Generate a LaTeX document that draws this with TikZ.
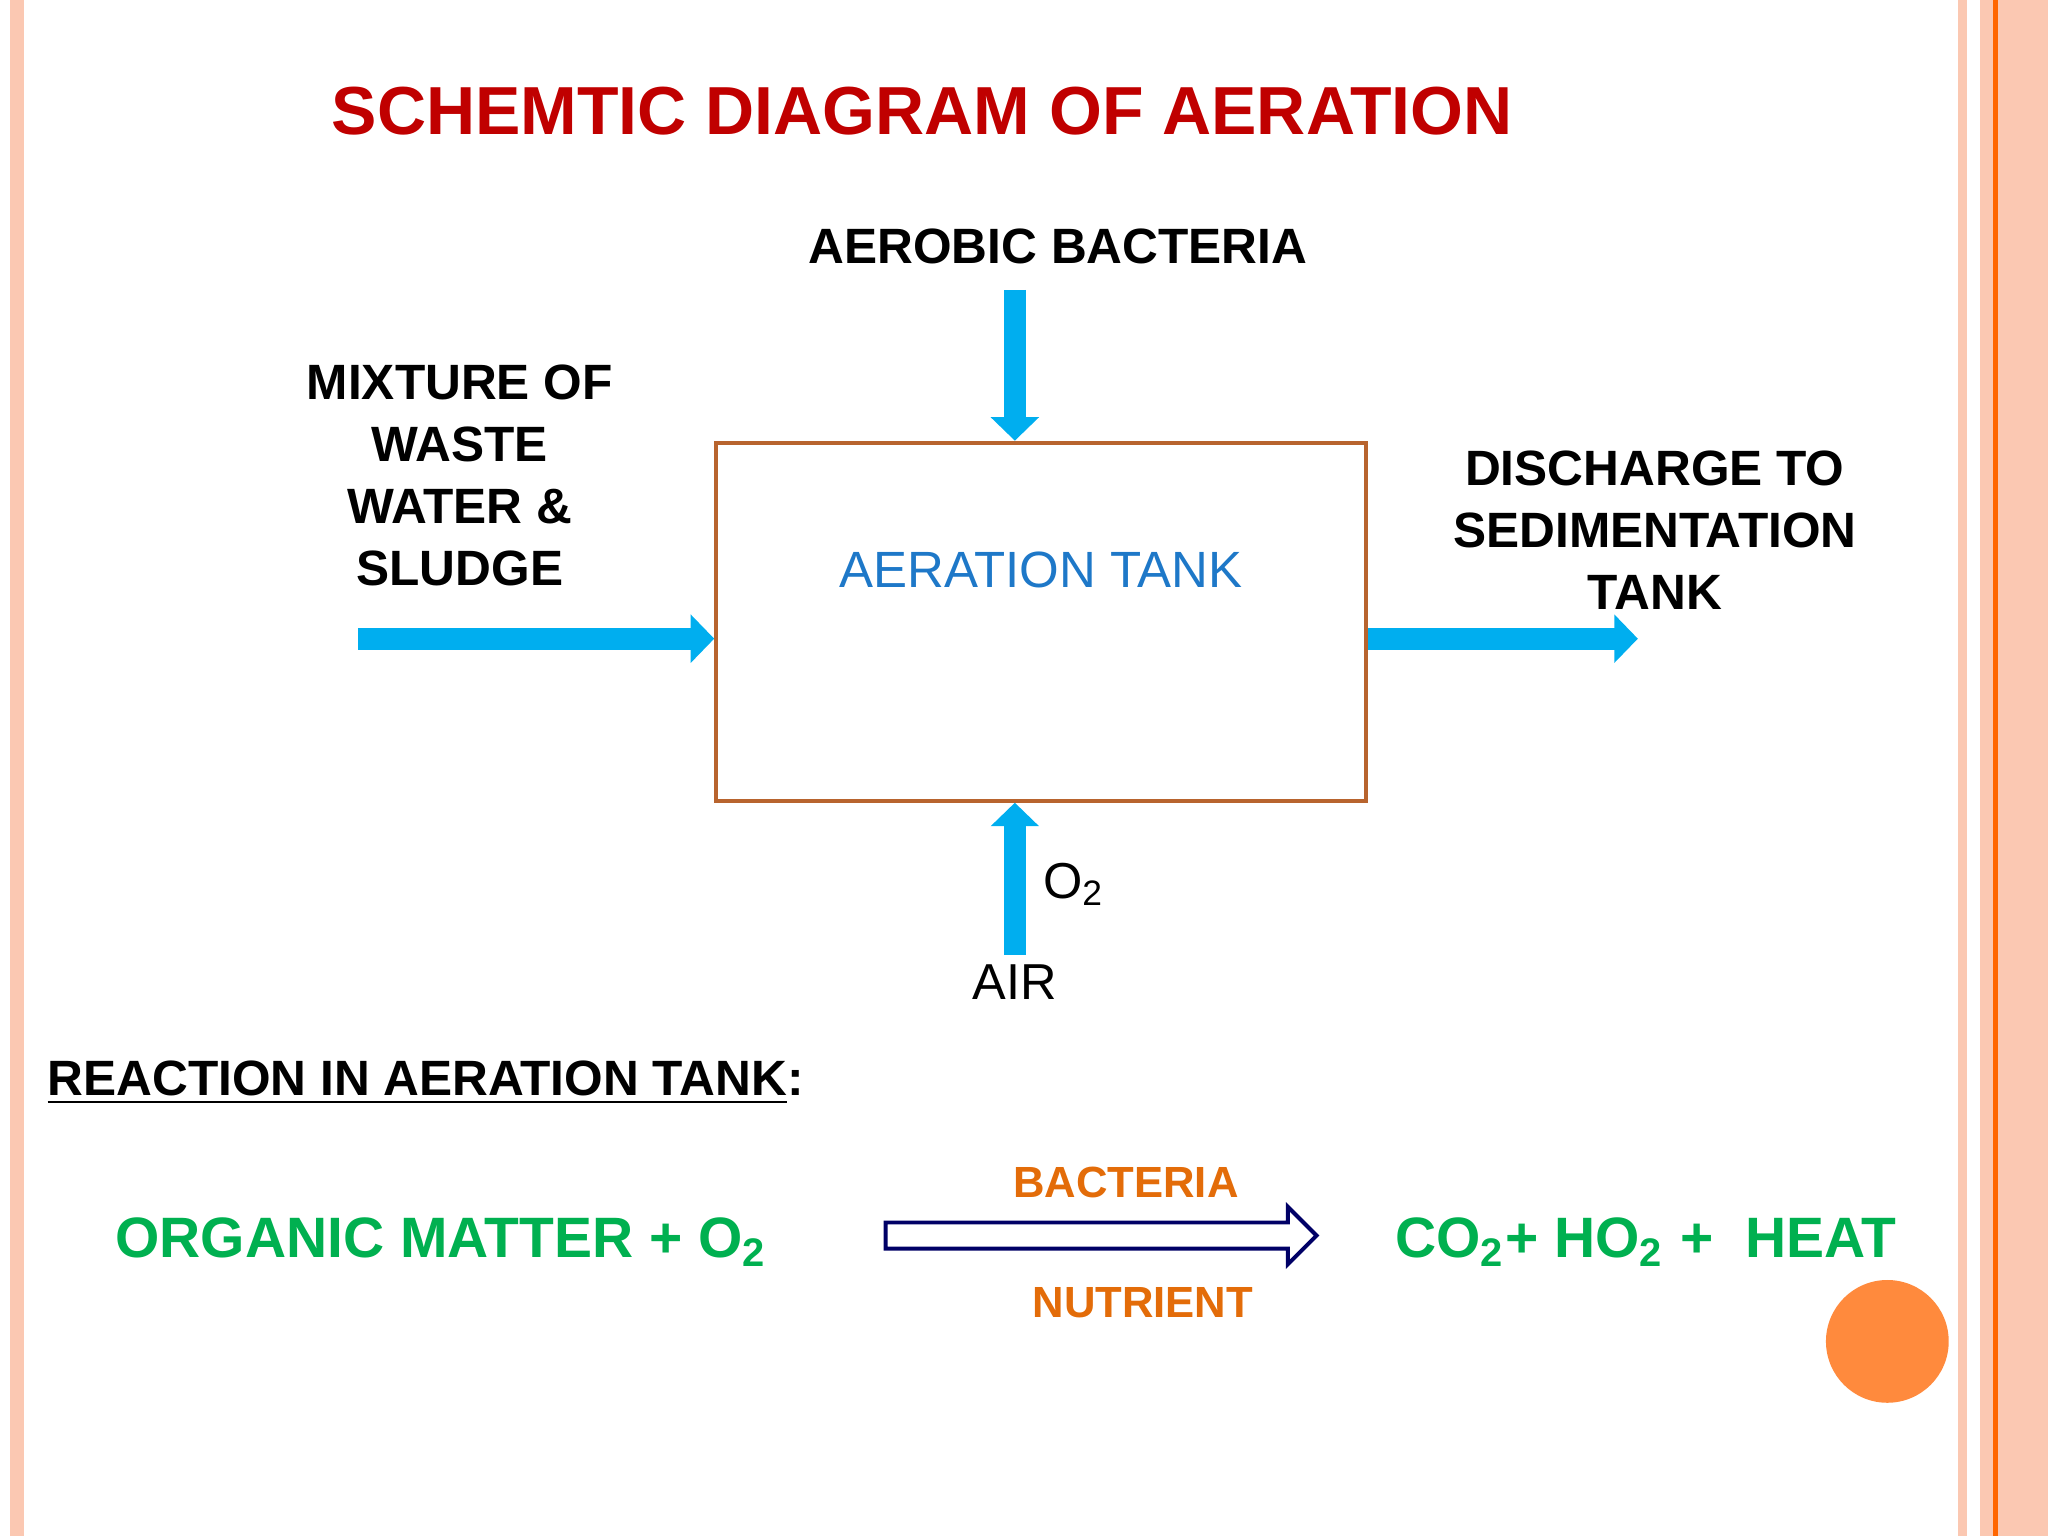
\documentclass[tikz,border=0pt]{standalone}
\usepackage{fontspec}
\setmainfont{Liberation Sans}
\usetikzlibrary{arrows.meta}
\definecolor{blu}{HTML}{00AEEF}
\definecolor{brn}{HTML}{B8642E}
\definecolor{ttl}{HTML}{C00000}
\definecolor{grn}{HTML}{00B050}
\definecolor{org}{HTML}{E36C09}
\definecolor{pk}{HTML}{FBC8B2}
\definecolor{tk}{HTML}{1E78C8}
\definecolor{circ}{HTML}{FF8A3D}
\begin{document}
\begin{tikzpicture}[x=0.01cm,y=-0.01cm,
 flow/.style={blu,line width=0.17cm,-{Triangle[width=0.36cm,length=0.18cm]}},
 lbl/.style={font=\bfseries\fontsize{10.8}{13.5}\selectfont,align=center,text=black}]
\useasboundingbox (0,0) rectangle (1568,1176);
\fill[pk] (8,0) rectangle (18,1176);
\fill[pk] (1499,0) rectangle (1506,1176);
\fill[pk] (1516,0) rectangle (1568,1176);
\draw[orange!80!red,line width=0.04cm] (1528,0) -- (1528,1176);
\node[font=\bfseries\fontsize{14.8}{18}\selectfont,text=ttl] (title) at (706,85) {SCHEMTIC DIAGRAM OF AERATION};
\node[draw=brn,line width=0.03cm,minimum width=4.97cm,minimum height=2.74cm] (tank) at (797,476) {};
\node[text=tk,font=\fontsize{11.1}{14}\selectfont] (tl) at (797,436) {AERATION TANK};
\node[lbl] (bac) at (810,189) {AEROBIC BACTERIA};
\node[lbl] (mix) at (352,364) {MIXTURE OF\\WASTE\\WATER \&\\SLUDGE};
\node[lbl] (dis) at (1267,406) {DISCHARGE TO\\SEDIMENTATION\\TANK};
\coordinate (a1) at (777,222);
\coordinate (a2) at (274,489);
\coordinate (a3) at (1254,489);
\coordinate (a4) at (777,731);
\draw[flow] (a1) -- (tank.north -| a1);
\draw[flow] (a2) -- (tank.west |- a2);
\draw[flow] (tank.east |- a3) -- (a3);
\draw[flow] (a4) -- (tank.south -| a4);
\node[font=\fontsize{11}{13}\selectfont] (o2) at (822,677) {O\textsubscript{2}};
\node[font=\fontsize{11}{13}\selectfont] (air) at (777,752) {AIR};
\node[lbl,anchor=west] (rx) at (24,829) {\underline{REACTION IN AERATION TANK}:};
\node[font=\bfseries\fontsize{12.4}{15}\selectfont,text=grn,anchor=west] (lhs) at (76,951) {ORGANIC MATTER + O\textsubscript{2}};
\node[font=\bfseries\fontsize{12.4}{15}\selectfont,text=grn,anchor=west] (rhs) at (1056,951) {CO\textsubscript{2}+ HO\textsubscript{2} +\ \ HEAT};
\node[font=\bfseries\fontsize{9.5}{11}\selectfont,text=org] (bt) at (862,905) {BACTERIA};
\node[font=\bfseries\fontsize{9.5}{11}\selectfont,text=org] (nt) at (875,997) {NUTRIENT};
\draw[blue!40!black,line width=0.03cm,line join=miter] (678,936) -- (986,936) -- (986,924) -- (1008,946) -- (986,968) -- (986,956) -- (678,956) -- cycle;
\fill[circ] (1445,1027) circle (47);
\end{tikzpicture}
\end{document}
